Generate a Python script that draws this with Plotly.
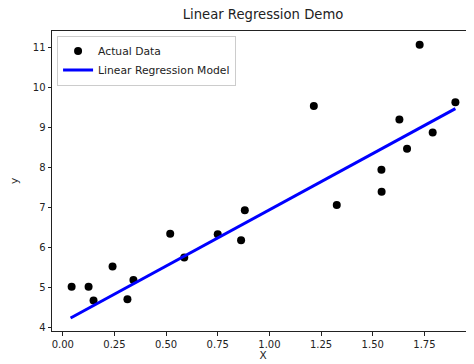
import plotly.graph_objects as go

x_data = [0.043, 0.125, 0.149, 0.241, 0.313, 0.342, 0.520, 0.588, 0.750, 0.863,
          0.881, 1.215, 1.326, 1.542, 1.543, 1.629, 1.666, 1.727, 1.790, 1.900]
y_data = [5.02, 5.02, 4.675, 5.525, 4.71, 5.19, 6.34, 5.75, 6.33, 6.18,
          6.93, 9.53, 7.06, 7.94, 7.39, 9.19, 8.465, 11.06, 8.865, 9.625]

line_x = [0.038, 1.900]
line_y = [4.24, 9.465]

x_ticks = [0.0, 0.25, 0.5, 0.75, 1.0, 1.25, 1.5, 1.75]
x_tick_labels = ["0.00", "0.25", "0.50", "0.75", "1.00", "1.25", "1.50", "1.75"]
y_ticks = [4, 5, 6, 7, 8, 9, 10, 11]

font = "DejaVu Sans"

fig = go.Figure()
fig.add_trace(go.Scatter(x=x_data, y=y_data, mode="markers", name="Actual Data",
                         marker=dict(color="black", size=8)))
fig.add_trace(go.Scatter(x=line_x, y=line_y, mode="lines", name="Linear Regression Model",
                         line=dict(color="#0000ff", width=3)))

axis_common = dict(showline=True, linecolor="#222222", linewidth=1, mirror=True,
                   ticks="outside", ticklen=3.5, tickcolor="#222222", tickwidth=1,
                   showgrid=False, zeroline=False, automargin=False,
                   tickfont=dict(family=font, size=10, color="#222222"))

fig.update_layout(
    width=474, height=364,
    margin=dict(l=44, r=8, t=23, b=41),
    paper_bgcolor="white", plot_bgcolor="white",
    font=dict(family=font, color="#222222"),
    title=dict(text="Linear Regression Demo", x=0.538, xanchor="center",
               yref="container", y=1, yanchor="top", pad=dict(t=2),
               font=dict(family=font, size=13.2, color="#222222")),
    xaxis=dict(range=[-0.052, 1.99], tickvals=x_ticks, ticktext=x_tick_labels,
               title=dict(text="X", font=dict(family=font, size=10.5), standoff=0),
               **axis_common),
    yaxis=dict(range=[3.915, 11.4], tickvals=y_ticks,
               title=dict(text="y", font=dict(family=font, size=10.5), standoff=20),
               **axis_common),
    legend=dict(x=0.012, y=0.985, xanchor="left", yanchor="top",
                bgcolor="white", bordercolor="#cccccc", borderwidth=1,
                font=dict(family=font, size=10.75, color="#222222"),
                tracegroupgap=0, itemwidth=30),
    showlegend=True,
)

fig.write_html("out.html")
